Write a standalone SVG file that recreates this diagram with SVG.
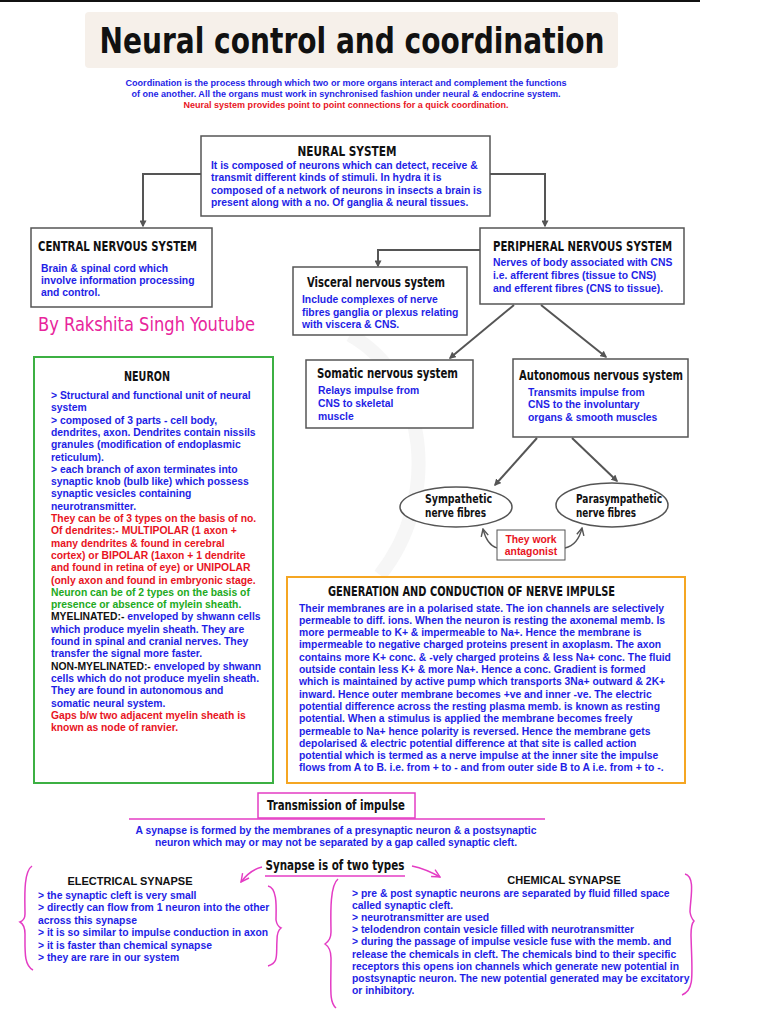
<svg xmlns="http://www.w3.org/2000/svg" width="768" height="1024" viewBox="0 0 768 1024">
<defs>
<marker id="ah" viewBox="0 0 10 10" refX="8" refY="5" markerWidth="7" markerHeight="7" orient="auto" markerUnits="userSpaceOnUse">
<path d="M0,0 L10,5 L0,10 z" fill="#555"/>
</marker>
<marker id="ah2" viewBox="0 0 10 10" refX="9" refY="5" markerWidth="9" markerHeight="9" orient="auto" markerUnits="userSpaceOnUse">
<path d="M1,1 L9,5 L1,9" fill="none" stroke="#555" stroke-width="1.6"/>
</marker>
<marker id="mh" viewBox="0 0 10 10" refX="9" refY="5" markerWidth="10" markerHeight="10" orient="auto" markerUnits="userSpaceOnUse">
<path d="M1,1 L9,5 L1,9" fill="none" stroke="#e43cc4" stroke-width="1.4"/>
</marker>
</defs>
<style>
.bx{fill:#fff;stroke:#555;stroke-width:1.5}
.hw{font-family:"DejaVu Sans Condensed","DejaVu Sans",sans-serif;font-weight:bold;fill:#111}
.b{font-family:"Liberation Sans",Arial,sans-serif;font-weight:bold;font-size:10.35px;fill:#1e1ee6}
.r{fill:#e8141e}
.g{fill:#22aa22}
.k{fill:#111}
.con{fill:none;stroke:#555;stroke-width:2}
.mg{fill:none;stroke:#e43cc4;stroke-width:1.5}
</style>
<rect width="768" height="1024" fill="#fff"/>
<line x1="0" y1="1" x2="700" y2="1" stroke="#111" stroke-width="2"/>
<path d="M350,335 C430,380 440,500 380,575" fill="none" stroke="#f6f6f6" stroke-width="14"/>

<g id="title">
<rect x="85" y="12" width="533" height="56" rx="4" fill="#f6f0ea"/>
<text x="352" y="53" class="hw" font-size="36" text-anchor="middle" textLength="505" lengthAdjust="spacingAndGlyphs">Neural control and coordination</text>
</g>
<g id="intro" font-family="Liberation Sans, Arial, sans-serif" font-weight="bold" font-size="9" text-anchor="middle">
<text x="346" y="86" fill="#1e1ee6" textLength="441" lengthAdjust="spacingAndGlyphs">Coordination is the process through which two or more organs interact and complement the functions</text>
<text x="346" y="97" fill="#1e1ee6" textLength="429" lengthAdjust="spacingAndGlyphs">of one another. All the organs must work in synchronised fashion under neural &amp; endocrine system.</text>
<text x="346" y="107.5" fill="#e8141e" textLength="325" lengthAdjust="spacingAndGlyphs">Neural system provides point to point connections for a quick coordination.</text>
</g>

<g id="connectors">
<path class="con" d="M201,174 H143 V226" marker-end="url(#ah)"/>
<path class="con" d="M490,174 H545 V226" marker-end="url(#ah)"/>
<path class="con" d="M480,250 H378 V266" marker-end="url(#ah)"/>
<path class="con" d="M514,305 L450,358" marker-end="url(#ah)"/>
<path class="con" d="M541,305 L606,357" marker-end="url(#ah)"/>
<path class="con" d="M537,438 L495,485" marker-end="url(#ah)"/>
<path class="con" d="M572,438 L617,481" marker-end="url(#ah)"/>
<path d="M497,548 Q487,545 483,529" fill="none" stroke="#555" stroke-width="1.3" marker-end="url(#ah2)"/>
<path d="M565,548 Q578,545 582,528" fill="none" stroke="#555" stroke-width="1.3" marker-end="url(#ah2)"/>
</g>

<g id="neural-system">
<rect class="bx" x="201" y="136" width="289" height="80"/>
<text x="347" y="156" class="hw" font-size="14" text-anchor="middle" textLength="99" lengthAdjust="spacingAndGlyphs">NEURAL SYSTEM</text>
<text class="b" x="211" y="168.5">It is composed of neurons which can detect, receive &amp;</text>
<text class="b" x="211" y="181">transmit different kinds of stimuli. In hydra it is</text>
<text class="b" x="211" y="193.5">composed of a network of neurons in insects a brain is</text>
<text class="b" x="211" y="206">present along with a no. Of ganglia &amp; neural tissues.</text>
</g>

<g id="cns">
<rect class="bx" x="31" y="228" width="181" height="79"/>
<text x="38" y="251" class="hw" font-size="14" textLength="159" lengthAdjust="spacingAndGlyphs">CENTRAL NERVOUS SYSTEM</text>
<text class="b" x="41" y="271.5">Brain &amp; spinal cord which</text>
<text class="b" x="41" y="283.5">involve information processing</text>
<text class="b" x="41" y="296">and control.</text>
</g>
<text id="signature" x="38" y="331" font-family="DejaVu Sans Condensed, DejaVu Sans, sans-serif" font-size="19" fill="#e8259c" textLength="217" lengthAdjust="spacingAndGlyphs">By Rakshita Singh Youtube</text>

<g id="pns">
<rect class="bx" x="480" y="228" width="204" height="76"/>
<text x="493" y="251" class="hw" font-size="14" textLength="179" lengthAdjust="spacingAndGlyphs">PERIPHERAL NERVOUS SYSTEM</text>
<text class="b" x="493" y="265.5">Nerves of body associated with CNS</text>
<text class="b" x="493" y="278.5">i.e. afferent fibres (tissue to CNS)</text>
<text class="b" x="493" y="291.5">and efferent fibres (CNS to tissue).</text>
</g>

<g id="visceral">
<rect class="bx" x="293" y="267" width="174" height="68"/>
<text x="307" y="287" class="hw" font-size="13.5" textLength="138" lengthAdjust="spacingAndGlyphs">Visceral nervous system</text>
<text class="b" x="302" y="302.5">Include complexes of nerve</text>
<text class="b" x="302" y="315.5">fibres ganglia or plexus relating</text>
<text class="b" x="302" y="327.5">with viscera &amp; CNS.</text>
</g>

<g id="somatic">
<rect class="bx" x="306" y="360" width="167" height="68"/>
<text x="317" y="378" class="hw" font-size="13.5" textLength="141" lengthAdjust="spacingAndGlyphs">Somatic nervous system</text>
<text class="b" x="318" y="393.5">Relays impulse from</text>
<text class="b" x="318" y="406.5">CNS to skeletal</text>
<text class="b" x="318" y="419.5">muscle</text>
</g>

<g id="autonomous">
<rect class="bx" x="513" y="359" width="175" height="78"/>
<text x="519" y="380" class="hw" font-size="13.5" textLength="164" lengthAdjust="spacingAndGlyphs">Autonomous nervous system</text>
<text class="b" x="528" y="395.5">Transmits impulse from</text>
<text class="b" x="528" y="407.5">CNS to the involuntary</text>
<text class="b" x="528" y="420.5">organs &amp; smooth muscles</text>
</g>

<g id="sympathetic">
<ellipse cx="456" cy="507" rx="56" ry="20" fill="#fff" stroke="#555" stroke-width="1.5"/>
<text x="425" y="503" class="hw" font-size="12.5" textLength="67" lengthAdjust="spacingAndGlyphs">Sympathetic</text>
<text x="425" y="516.5" class="hw" font-size="12.5" textLength="61" lengthAdjust="spacingAndGlyphs">nerve fibres</text>
</g>

<g id="parasympathetic">
<ellipse cx="612" cy="505" rx="56" ry="22" fill="#fff" stroke="#555" stroke-width="1.5"/>
<text x="576" y="503" class="hw" font-size="12.5" textLength="86" lengthAdjust="spacingAndGlyphs">Parasympathetic</text>
<text x="576" y="516.5" class="hw" font-size="12.5" textLength="60" lengthAdjust="spacingAndGlyphs">nerve fibres</text>
</g>

<g id="antagonist">
<rect x="497" y="530" width="68" height="30" fill="#fff" stroke="#555" stroke-width="1"/>
<text class="b r" x="531" y="542.5" text-anchor="middle">They work</text>
<text class="b r" x="531" y="554.5" text-anchor="middle">antagonist</text>
</g>

<g id="neuron">
<rect x="34" y="357" width="239" height="426" fill="#fff" stroke="#3cb043" stroke-width="2"/>
<text x="147" y="381" class="hw" font-size="14" text-anchor="middle" textLength="46" lengthAdjust="spacingAndGlyphs">NEURON</text>
<text class="b" x="51" y="399">&gt; Structural and functional unit of neural</text>
<text class="b" x="51" y="411.3">system</text>
<text class="b" x="51" y="423.6">&gt; composed of 3 parts - cell body,</text>
<text class="b" x="51" y="435.9">dendrites, axon. Dendrites contain nissils</text>
<text class="b" x="51" y="448.2">granules (modification of endoplasmic</text>
<text class="b" x="51" y="460.5">reticulum).</text>
<text class="b" x="51" y="472.8">&gt; each branch of axon terminates into</text>
<text class="b" x="51" y="485.1">synaptic knob (bulb like) which possess</text>
<text class="b" x="51" y="497.4">synaptic vesicles containing</text>
<text class="b" x="51" y="509.7">neurotransmitter.</text>
<text class="b r" x="51" y="522">They can be of 3 types on the basis of no.</text>
<text class="b r" x="51" y="534.3">Of dendrites:- MULTIPOLAR (1 axon +</text>
<text class="b r" x="51" y="546.6">many dendrites &amp; found in cerebral</text>
<text class="b r" x="51" y="558.9">cortex) or BIPOLAR (1axon + 1 dendrite</text>
<text class="b r" x="51" y="571.2">and found in retina of eye) or UNIPOLAR</text>
<text class="b r" x="51" y="583.5">(only axon and found in embryonic stage.</text>
<text class="b g" x="51" y="595.8">Neuron can be of 2 types on the basis of</text>
<text class="b g" x="51" y="608.1">presence or absence of mylein sheath.</text>
<text class="b" x="51" y="620.4"><tspan class="k">MYELINATED:-</tspan> enveloped by shwann cells</text>
<text class="b" x="51" y="632.7">which produce myelin sheath. They are</text>
<text class="b" x="51" y="645">found in spinal and cranial nerves. They</text>
<text class="b" x="51" y="657.3">transfer the signal more faster.</text>
<text class="b" x="51" y="669.6"><tspan class="k">NON-MYELINATED:-</tspan> enveloped by shwann</text>
<text class="b" x="51" y="681.9">cells which do not produce myelin sheath.</text>
<text class="b" x="51" y="694.2">They are found in autonomous and</text>
<text class="b" x="51" y="706.5">somatic neural system.</text>
<text class="b r" x="51" y="718.8">Gaps b/w two adjacent myelin sheath is</text>
<text class="b r" x="51" y="731.1">known as node of ranvier.</text>
</g>

<g id="generation">
<rect x="287" y="577" width="398" height="206" fill="#fff" stroke="#f5a623" stroke-width="2"/>
<text x="328" y="596" class="hw" font-size="14" textLength="287" lengthAdjust="spacingAndGlyphs">GENERATION AND CONDUCTION OF NERVE IMPULSE</text>
<text class="b" x="299" y="611.5">Their membranes are in a polarised state. The ion channels are selectively</text>
<text class="b" x="299" y="623.8">permeable to diff. ions. When the neuron is resting the axonemal memb. Is</text>
<text class="b" x="299" y="636.1">more permeable to K+ &amp; impermeable to Na+. Hence the membrane is</text>
<text class="b" x="299" y="648.4">impermeable to negative charged proteins present in axoplasm. The axon</text>
<text class="b" x="299" y="660.7">contains more K+ conc. &amp; -vely charged proteins &amp; less Na+ conc. The fluid</text>
<text class="b" x="299" y="673">outside contain less K+ &amp; more Na+. Hence a conc. Gradient is formed</text>
<text class="b" x="299" y="685.3">which is maintained by active pump which transports 3Na+ outward &amp; 2K+</text>
<text class="b" x="299" y="697.6">inward. Hence outer membrane becomes +ve and inner -ve. The electric</text>
<text class="b" x="299" y="709.9">potential difference across the resting plasma memb. is known as resting</text>
<text class="b" x="299" y="722.2">potential. When a stimulus is applied the membrane becomes freely</text>
<text class="b" x="299" y="734.5">permeable to Na+ hence polarity is reversed. Hence the membrane gets</text>
<text class="b" x="299" y="746.8">depolarised &amp; electric potential difference at that site is called action</text>
<text class="b" x="299" y="759.1">potential which is termed as a nerve impulse at the inner site the impulse</text>
<text class="b" x="299" y="771.4">flows from A to B. i.e. from + to - and from outer side B to A i.e. from + to -.</text>
</g>

<g id="transmission">
<rect x="258" y="793" width="157" height="25" fill="#fff" stroke="#e43cc4" stroke-width="1.5"/>
<line x1="129" y1="819" x2="545" y2="819" stroke="#e43cc4" stroke-width="1.5"/>
<text x="336" y="810" class="hw" font-size="13.5" text-anchor="middle" textLength="138" lengthAdjust="spacingAndGlyphs">Transmission of impulse</text>
<text class="b" x="336" y="833.5" text-anchor="middle">A synapse is formed by the membranes of a presynaptic neuron &amp; a postsynaptic</text>
<text class="b" x="336" y="845.5" text-anchor="middle">neuron which may or may not be separated by a gap called synaptic cleft.</text>
</g>

<g id="synapse-types">
<text x="335" y="870" class="hw" font-size="14.5" text-anchor="middle" textLength="139" lengthAdjust="spacingAndGlyphs">Synapse is of two types</text>
<line x1="265" y1="876" x2="405" y2="876" stroke="#e43cc4" stroke-width="1.5"/>
<path class="mg" d="M262,867 Q250,870 241,882" marker-end="url(#mh)"/>
<path class="mg" d="M412,866 Q426,869 440,877" marker-end="url(#mh)"/>
</g>

<g id="electrical">
<path class="mg" d="M32,866 C23,872 25,900 25,914 Q25,920 20,922 Q25,925 25,934 C25,952 24,965 33,970"/>
<path class="mg" d="M268,886 C278,888 276,910 276,920 Q277,926 281,928 Q277,931 277,940 C276,955 279,963 268,966"/>
<text x="130" y="884.5" font-family="Liberation Sans, Arial, sans-serif" font-weight="bold" font-size="11" fill="#111" text-anchor="middle">ELECTRICAL SYNAPSE</text>
<text class="b" x="38" y="898.5">&gt; the synaptic cleft is very small</text>
<text class="b" x="38" y="911">&gt; directly can flow from 1 neuron into the other</text>
<text class="b" x="38" y="923.5">across this synapse</text>
<text class="b" x="38" y="936">&gt; it is so similar to impulse conduction in axon</text>
<text class="b" x="38" y="948.5">&gt; it is faster than chemical synapse</text>
<text class="b" x="38" y="961">&gt; they are rare in our system</text>
</g>

<g id="chemical">
<path class="mg" d="M338,879 C329,886 331,920 331,932 Q331,940 325,944 Q331,948 331,958 C331,990 329,1002 336,1008"/>
<path class="mg" d="M685,874 C696,877 690,900 690,912 Q691,918 694,921 Q691,924 691,935 C692,975 695,990 682,995"/>
<text x="564" y="884" font-family="Liberation Sans, Arial, sans-serif" font-weight="bold" font-size="11" fill="#111" text-anchor="middle">CHEMICAL SYNAPSE</text>
<text class="b" x="352" y="896.5">&gt; pre &amp; post synaptic neurons are separated by fluid filled space</text>
<text class="b" x="352" y="908.7">called synaptic cleft.</text>
<text class="b" x="352" y="920.9">&gt; neurotransmitter are used</text>
<text class="b" x="352" y="933.1">&gt; telodendron contain vesicle filled with neurotransmitter</text>
<text class="b" x="352" y="945.3">&gt; during the passage of impulse vesicle fuse with the memb.  and</text>
<text class="b" x="352" y="957.5">release the chemicals in cleft. The chemicals bind to their specific</text>
<text class="b" x="352" y="969.7">receptors this opens ion channels which generate new potential in</text>
<text class="b" x="352" y="981.9">postsynaptic neuron. The new potential generated may be excitatory</text>
<text class="b" x="352" y="994.1">or inhibitory.</text>
</g>
</svg>
